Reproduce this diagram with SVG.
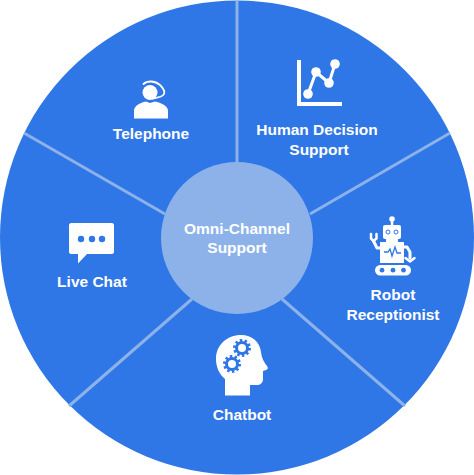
<svg xmlns="http://www.w3.org/2000/svg" width="474" height="475" viewBox="0 0 474 475">
<style>
.t{font-family:"Liberation Sans",Arial,sans-serif;font-weight:700;font-size:15.5px;fill:#fff;text-anchor:middle}
.w{fill:#fff}
.b{fill:#2f76e6}
.s{fill:none;stroke:#fff;stroke-linecap:round;stroke-linejoin:round}
.c{stroke:#8db2ea;stroke-width:3;fill:none}
.g{fill:none;stroke:#2f76e6;stroke-width:3}
.d{fill:none;stroke:#2f76e6;stroke-width:3;stroke-dasharray:2.400 2.312}
</style>
<circle id="disc" cx="237" cy="237.500" r="237" fill="#2f76e6"/>
<g id="connectors" class="c">
<line x1="237" y1="1" x2="237" y2="163"/>
<line x1="310" y1="214" x2="450" y2="133"/>
<line x1="282" y1="299" x2="405" y2="406"/>
<line x1="192" y1="299" x2="69" y2="406"/>
<line x1="165" y1="214" x2="24" y2="133"/>
</g>
<g id="center">
<circle cx="237" cy="238" r="76" fill="#8db2ea"/>
<text class="t" x="237" y="234">Omni-Channel</text>
<text class="t" x="237" y="253">Support</text>
</g>
<g id="telephone">
<circle class="w" cx="150" cy="92.500" r="7.500"/>
<path class="s" stroke-width="1.800" d="M143.500 84C147 80.500 155 80.500 160 85C164 89 165 92 164 94C163 96.500 159 97.500 153 98.500"/>
<path class="w" d="M134 118.500V111C134 105.500 140 103 146 101.500L150 103L155 101.500C161 103 168 105.500 168 111V118.500Z"/>
<text class="t" x="151" y="139">Telephone</text>
</g>
<g id="human-decision">
<path class="w" d="M297 60H301V102H342V106H297Z"/>
<path class="s" stroke-width="3" d="M308 94L316 72L329 83L335 64"/>
<circle class="w" cx="308" cy="94" r="4.800"/>
<circle class="w" cx="316" cy="72" r="4.800"/>
<circle class="w" cx="329" cy="83" r="4.800"/>
<circle class="w" cx="335" cy="64" r="4.800"/>
<text class="t" x="317" y="135">Human Decision</text>
<text class="t" x="319" y="155">Support</text>
</g>
<g id="robot">
<circle class="w" cx="392" cy="219" r="2.800"/>
<rect class="w" x="390.800" y="220" width="2.500" height="6"/>
<rect class="w" x="383" y="225" width="18" height="14" rx="2"/>
<circle cx="388" cy="232" r="2" fill="none" stroke="#2f76e6"/>
<circle cx="396" cy="232" r="2" fill="none" stroke="#2f76e6"/>
<rect class="w" x="386" y="239" width="12" height="3"/>
<rect class="w" x="380" y="242" width="24" height="21"/>
<path d="M384 252H388L390 249L392 256L395 247L397 253H401" fill="none" stroke="#2f76e6" stroke-width="1.300"/>
<path class="s" stroke-width="3" d="M380 248H377L373.500 241"/>
<path class="s" stroke-width="2.500" d="M371 234V238.500L373.500 241L376.500 238.500V234"/>
<path class="s" stroke-width="3" d="M404 247H407L410 252V258"/>
<path class="s" stroke-width="2.500" d="M405.500 258L410 261.500L414.500 258"/>
<rect class="w" x="375" y="265" width="36" height="10.500" rx="5.200"/>
<circle class="b" cx="382" cy="270.200" r="2.400"/>
<circle class="b" cx="393" cy="270.200" r="2.400"/>
<circle class="b" cx="403.500" cy="270.200" r="2.400"/>
<text class="t" x="393" y="300">Robot</text>
<text class="t" x="393" y="320">Receptionist</text>
</g>
<g id="chatbot">
<path class="w" d="M225 395.500V379C219 374 216 367 216 359C216 345 227 335 241 335C252 335 260 342 261 352C261.500 358 264 362 267 366C269 369 267 370 263 371V379C263 383 260 385 257 385H250V395.500Z"/>
<circle class="g" cx="242" cy="348" r="5.500"/>
<circle class="d" cx="242" cy="348" r="7.500"/>
<circle class="g" cx="232" cy="364" r="5.500"/>
<circle class="d" cx="232" cy="364" r="7.500"/>
<text class="t" x="242" y="420">Chatbot</text>
</g>
<g id="live-chat">
<path class="w" d="M71 223H112C113 223 114 224 114 225V252C114 253 113 254 112 254H87L78 263.500V254H71C70 254 69 253 69 252V225C69 224 70 223 71 223Z"/>
<circle class="b" cx="81" cy="239" r="3.200"/>
<circle class="b" cx="92" cy="239" r="3.200"/>
<circle class="b" cx="102" cy="239" r="3.200"/>
<text class="t" x="92" y="287">Live Chat</text>
</g>
</svg>
